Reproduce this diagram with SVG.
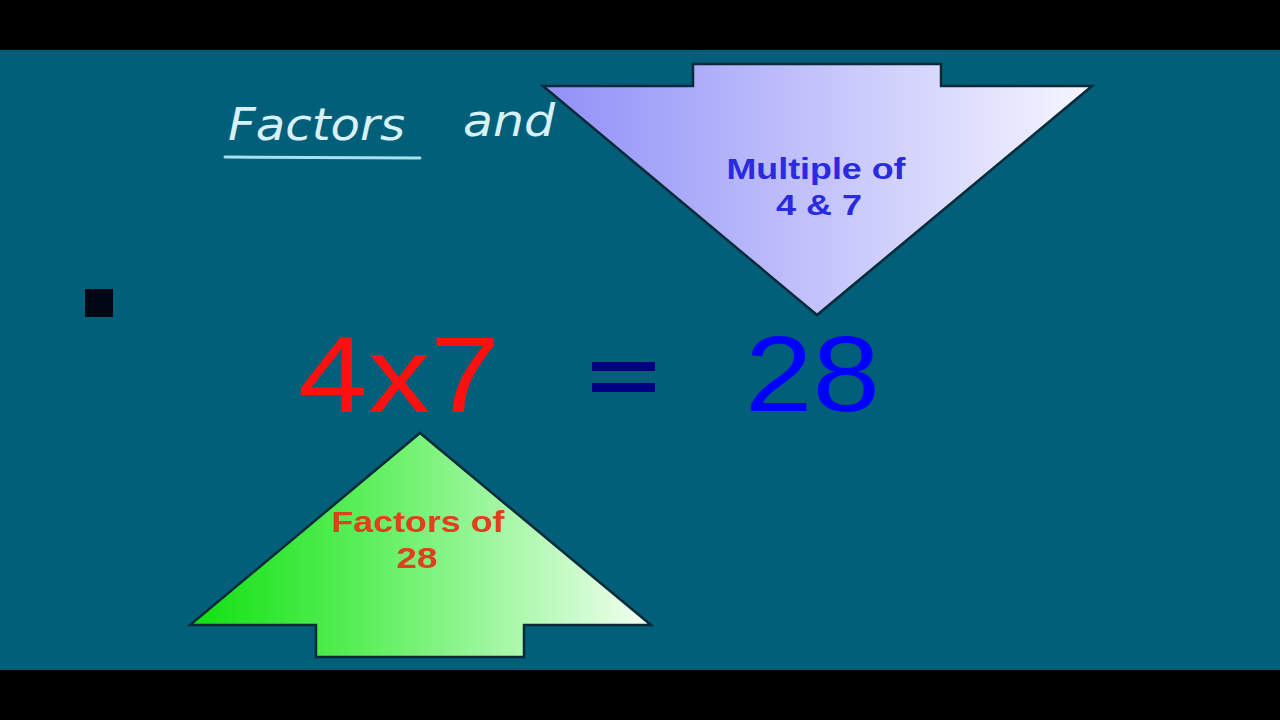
<svg xmlns="http://www.w3.org/2000/svg" width="1280" height="720" viewBox="0 0 1280 720">
<defs>
<linearGradient id="gDown" gradientUnits="userSpaceOnUse" x1="543" y1="0" x2="1092" y2="0">
<stop offset="0" stop-color="#9090f8"/>
<stop offset="1" stop-color="#f6f6ff"/>
</linearGradient>
<linearGradient id="gUp" gradientUnits="userSpaceOnUse" x1="190" y1="0" x2="651" y2="0">
<stop offset="0" stop-color="#10e010"/>
<stop offset="0.4" stop-color="#60f060"/>
<stop offset="1" stop-color="#f4fff4"/>
</linearGradient>
</defs>
<style>
.arrow{stroke:#0a2a3a;stroke-width:2.5;stroke-linejoin:miter}
.lbl{font-family:"Liberation Sans",Arial,sans-serif;font-size:30px;font-weight:bold;text-anchor:middle}
.big{font-family:"Liberation Sans",Arial,sans-serif;font-size:107px}
.hand{font-family:"DejaVu Sans",sans-serif;font-size:44px;font-style:italic;font-weight:200;fill:#d8f0f8}
</style>
<rect x="0" y="0" width="1280" height="720" fill="#000000"/>
<rect x="0" y="50" width="1280" height="620" fill="#015f79"/>
<g id="title">
<text class="hand" x="228" y="140" textLength="177" lengthAdjust="spacingAndGlyphs">Factors</text>
<text class="hand" x="463" y="136" textLength="92" lengthAdjust="spacingAndGlyphs">and</text>
<line x1="225" y1="157" x2="420" y2="158" stroke="#a8e0f0" stroke-width="3" stroke-linecap="round"/>
</g>
<g id="square">
<rect x="85" y="289" width="28" height="28" fill="#000814"/>
</g>
<g id="multiple-arrow">
<polygon class="arrow" fill="url(#gDown)" points="693,64 941,64 941,86 1092,86 817,315 543,86 693,86"/>
<text class="lbl" fill="#2a2ae0" x="816" y="179" textLength="179" lengthAdjust="spacingAndGlyphs">Multiple of</text>
<text class="lbl" fill="#2a2ae0" x="819" y="215" textLength="86" lengthAdjust="spacingAndGlyphs">4 &amp; 7</text>
</g>
<g id="factors-arrow">
<polygon class="arrow" fill="url(#gUp)" points="420,433 651,625 524,625 524,657 316,657 316,625 190,625"/>
<text class="lbl" fill="#e0401c" x="418" y="532" textLength="173" lengthAdjust="spacingAndGlyphs">Factors of</text>
<text class="lbl" fill="#e0401c" x="417" y="568" textLength="41" lengthAdjust="spacingAndGlyphs">28</text>
</g>
<g id="equation">
<text class="big" fill="#ff1010" x="298" y="412" textLength="202" lengthAdjust="spacingAndGlyphs">4x7</text>
<rect x="592" y="362" width="63" height="9" fill="#000080"/>
<rect x="592" y="383" width="63" height="9" fill="#000080"/>
<text class="big" fill="#0000ff" x="745" y="411" textLength="135" lengthAdjust="spacingAndGlyphs">28</text>
</g>
</svg>
